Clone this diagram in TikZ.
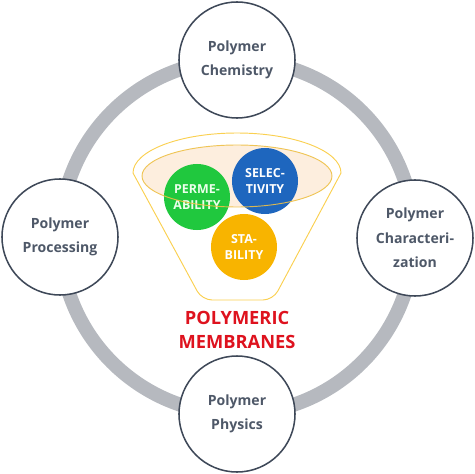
\documentclass[tikz,border=0pt]{standalone}
\usepackage{fontspec}
\setmainfont{Open Sans}
\usepackage{tikz}
\usetikzlibrary{shapes,arrows.meta,positioning,calc}
\usepackage{xcolor}
\definecolor{ringgray}{RGB}{182,185,191}
\definecolor{edgeslate}{RGB}{62,72,88}
\definecolor{labelslate}{RGB}{78,88,104}
\definecolor{permgreen}{RGB}{32,200,62}
\definecolor{selblue}{RGB}{30,102,190}
\definecolor{stabyellow}{RGB}{248,180,0}
\definecolor{peach}{RGB}{253,238,222}
\definecolor{funnelline}{RGB}{250,208,80}
\definecolor{ellipseline}{RGB}{238,192,70}
\definecolor{titlered}{RGB}{222,18,30}

\begin{document}
\begin{tikzpicture}[x=0.03cm, y=0.03cm, line join=round,
    topic/.style={draw=edgeslate, line width=1.3pt, fill=white, circle, minimum size=3.48cm, align=center, text=labelslate, font=\fontsize{12}{21}\selectfont\bfseries},
    prop/.style={circle, minimum size=1.98cm, inner sep=0pt, align=center, text=white, font=\fontsize{10.6}{13.5}\selectfont\bfseries}]
    \useasboundingbox (-237,-237) rectangle (237,237);
    % Ring
    \draw[ringgray, line width=12pt] (0,0) circle[radius=177];

    % Funnel
    \draw[funnelline, line width=0.8pt] (-104,64) arc[start angle=180, end angle=0, x radius=104, y radius=40] [rounded corners=0.3cm] -- (36,-63) -- (-35,-63) -- (-104,64);
    \fill[peach] (0,61) ellipse[x radius=95, y radius=31];

    % Properties
    \node[prop, fill=permgreen, text=green!8!white] (perm) at (-40,40) {PERME-\\ABILITY};
    \node[prop, fill=selblue] (sel) at (28,56) {SELEC-\\TIVITY};
    \node[prop, fill=stabyellow] (stab) at (7,-10) {STA-\\BILITY};
    \draw[ellipseline, line width=0.8pt, opacity=0.9] (0,61) ellipse[x radius=95, y radius=31];

    % Title
    \node[text=titlered, font=\fontsize{15.6}{20.5}\selectfont\bfseries, align=center] (title) at (0,-93) {POLYMERIC\\MEMBRANES};

    % Topics on the ring
    \node[topic] (chem) at (0,177) {Polymer\\Chemistry};
    \node[topic] (proc) at (-177,0) {Polymer\\Processing};
    \node[topic] (charac) at (178,-1) {Polymer\\Characteri-\\zation};
    \node[topic] (phys) at (0,-177) {Polymer\\Physics};
\end{tikzpicture}
\end{document}
